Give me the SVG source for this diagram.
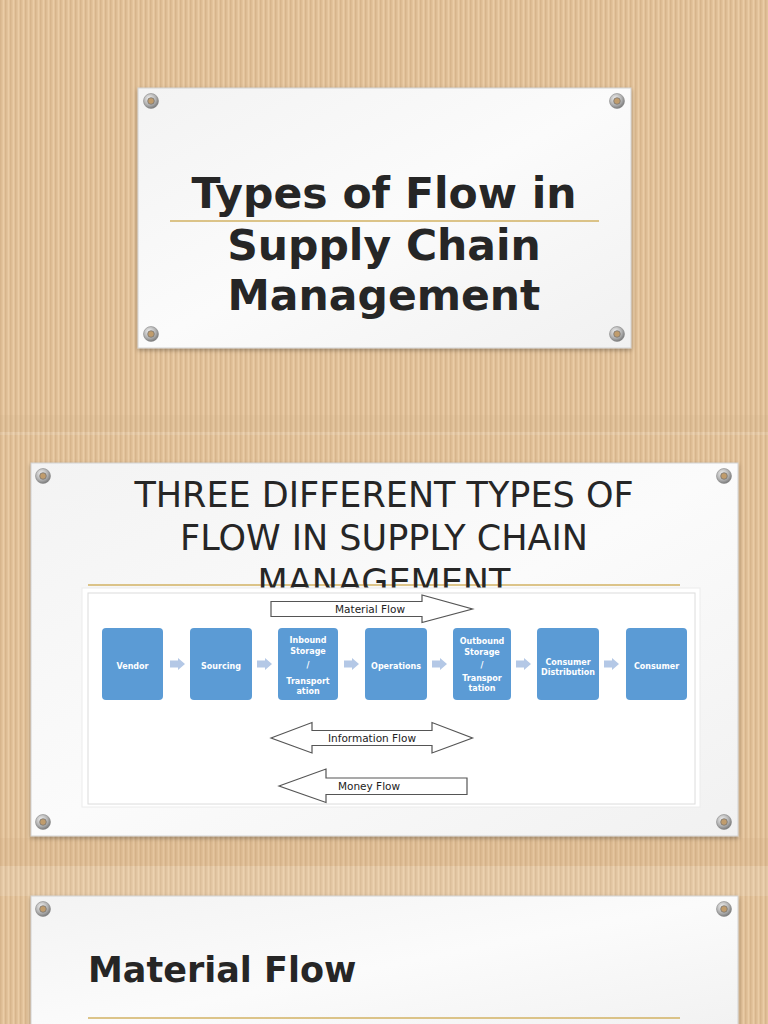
<svg xmlns="http://www.w3.org/2000/svg" width="768" height="1024" viewBox="0 0 768 1024">
<defs>
<pattern id="stripes" width="5" height="10" patternUnits="userSpaceOnUse">
<rect width="5" height="10" fill="#e3c39b"/>
<rect x="0" width="1.5" height="10" fill="#d3b086" opacity="0.75"/>
<rect x="3" width="1" height="10" fill="#eed2ad" opacity="0.6"/>
</pattern>
<linearGradient id="slideGrad" x1="0" y1="0" x2="1" y2="1">
<stop offset="0" stop-color="#f3f3f3"/>
<stop offset="0.5" stop-color="#fbfbfb"/>
<stop offset="1" stop-color="#f1f1f1"/>
</linearGradient>
<radialGradient id="screwGrad" cx="0.4" cy="0.35" r="0.7">
<stop offset="0" stop-color="#f4f4f4"/>
<stop offset="0.6" stop-color="#b0b0b0"/>
<stop offset="1" stop-color="#717171"/>
</radialGradient>
<filter id="shadow" x="-5%" y="-5%" width="110%" height="115%">
<feDropShadow dx="0" dy="2" stdDeviation="2" flood-color="#000" flood-opacity="0.3"/>
</filter>
<g id="screw">
<circle r="7.5" fill="url(#screwGrad)" stroke="#8a8a8a" stroke-width="0.6"/>
<circle r="3.3" fill="#c09c6c" stroke="#6f6f6f" stroke-width="0.7"/>
</g>
<path id="smallArrow" d="M0,-3.5 H8 V-6 L15,0 L8,6 V3.5 H0 Z" fill="#b4c8e6"/>
</defs>
<style>
.slide { fill: url(#slideGrad); stroke: #d2d2d2; stroke-width: 1; filter: url(#shadow); }
.divider { stroke: #d2b263; stroke-width: 1.3; }
.titleBold { font-family: "DejaVu Sans", sans-serif; font-weight: bold; fill: #262626; }
.titleLight { font-family: "DejaVu Sans", sans-serif; font-weight: normal; fill: #262626; }
.box { fill: #5b9bd5; }
.boxText { font-family: "DejaVu Sans", sans-serif; font-weight: bold; fill: #ffffff; text-anchor: middle; font-size: 8px; }
.bigArrow { fill: #ffffff; stroke: #555555; stroke-width: 1.2; }
.arrowText { font-family: "DejaVu Sans", sans-serif; font-size: 10.5px; fill: #222; text-anchor: middle; }
</style>

<!-- background -->
<rect width="768" height="1024" fill="url(#stripes)"/>
<rect y="415" width="768" height="17" fill="#c9a478" opacity="0.12"/>
<rect y="432" width="768" height="3" fill="#fff" opacity="0.12"/>
<rect y="838" width="768" height="28" fill="#c9a478" opacity="0.15"/>
<rect y="866" width="768" height="30" fill="#fff" opacity="0.12"/>

<!-- slide 1 -->
<g id="slide1">
<rect class="slide" x="138" y="88" width="493" height="260"/>
<line class="divider" x1="170" y1="221" x2="599" y2="221"/>
<text class="titleBold" font-size="42.5" text-anchor="middle" x="384" y="208">Types of Flow in</text>
<text class="titleBold" font-size="42.5" text-anchor="middle" x="384" y="260">Supply Chain</text>
<text class="titleBold" font-size="42.5" text-anchor="middle" x="384" y="310">Management</text>
<use href="#screw" x="151" y="101"/>
<use href="#screw" x="617" y="101"/>
<use href="#screw" x="151" y="334"/>
<use href="#screw" x="617" y="334"/>
</g>

<!-- slide 2 -->
<g id="slide2">
<rect class="slide" x="31" y="463" width="707" height="373"/>
<line class="divider" x1="88" y1="585" x2="680" y2="585"/>
<text class="titleLight" font-size="35" text-anchor="middle" x="384" y="507">THREE DIFFERENT TYPES OF</text>
<text class="titleLight" font-size="35" text-anchor="middle" x="384" y="550">FLOW IN SUPPLY CHAIN</text>
<text class="titleLight" font-size="35" text-anchor="middle" x="384" y="594">MANAGEMENT</text>
<rect x="82" y="588" width="618" height="219" fill="#ffffff" stroke="#ececec" stroke-width="1"/>
<rect x="88" y="593" width="607" height="211" fill="#ffffff" stroke="#dcdcdc" stroke-width="1"/>
<use href="#screw" x="43" y="476"/>
<use href="#screw" x="724" y="476"/>
<use href="#screw" x="43" y="822"/>
<use href="#screw" x="724" y="822"/>
</g>

<!-- flow diagram nodes -->
<g id="vendor">
<rect class="box" x="102" y="628" width="61" height="72" rx="4"/>
<text class="boxText" x="132.5" y="669" font-size="8.5">Vendor</text>
</g>
<g id="sourcing">
<rect class="box" x="190" y="628" width="62" height="72" rx="4"/>
<text class="boxText" x="221" y="669" font-size="8.5">Sourcing</text>
</g>
<g id="inbound">
<rect class="box" x="278" y="628" width="60" height="72" rx="4"/>
<text class="boxText" x="308" y="643">Inbound</text>
<text class="boxText" x="308" y="654">Storage</text>
<text class="boxText" x="308" y="668">/</text>
<text class="boxText" x="308" y="684">Transport</text>
<text class="boxText" x="308" y="694">ation</text>
</g>
<g id="operations">
<rect class="box" x="365" y="628" width="62" height="72" rx="4"/>
<text class="boxText" x="396" y="669">Operations</text>
</g>
<g id="outbound">
<rect class="box" x="453" y="628" width="58" height="72" rx="4"/>
<text class="boxText" x="482" y="644" font-size="6.5">Outbound</text>
<text class="boxText" x="482" y="655">Storage</text>
<text class="boxText" x="482" y="668">/</text>
<text class="boxText" x="482" y="681">Transpor</text>
<text class="boxText" x="482" y="691">tation</text>
</g>
<g id="consumerDistribution">
<rect class="box" x="537" y="628" width="62" height="72" rx="4"/>
<text class="boxText" x="568" y="665">Consumer</text>
<text class="boxText" x="568" y="675" font-size="6">Distribution</text>
</g>
<g id="consumer">
<rect class="box" x="626" y="628" width="61" height="72" rx="4"/>
<text class="boxText" x="656.5" y="669">Consumer</text>
</g>

<!-- connectors -->
<g id="connectors">
<use href="#smallArrow" x="170" y="664"/>
<use href="#smallArrow" x="257" y="664"/>
<use href="#smallArrow" x="344" y="664"/>
<use href="#smallArrow" x="432" y="664"/>
<use href="#smallArrow" x="516" y="664"/>
<use href="#smallArrow" x="604" y="664"/>
<path class="bigArrow" d="M271,601.5 H422 V595 L472.5,609 L422,622.5 V616.5 H271 Z"/>
<path class="bigArrow" d="M271,738 L312,722.5 V730.5 H432 V722.5 L472.5,738 L432,753 V745.5 H312 V753 Z"/>
<path class="bigArrow" d="M279,786 L326,769 V778 H467 V794.5 H326 V802.5 Z"/>
<text class="arrowText" x="370" y="613">Material Flow</text>
<text class="arrowText" x="372" y="742">Information Flow</text>
<text class="arrowText" x="369" y="790">Money Flow</text>
</g>

<!-- slide 3 -->
<g id="slide3">
<rect class="slide" x="31" y="896" width="707" height="140"/>
<text class="titleBold" font-size="35" x="88" y="982">Material Flow</text>
<line class="divider" x1="88" y1="1018" x2="680" y2="1018"/>
<use href="#screw" x="43" y="909"/>
<use href="#screw" x="724" y="909"/>
</g>
</svg>
